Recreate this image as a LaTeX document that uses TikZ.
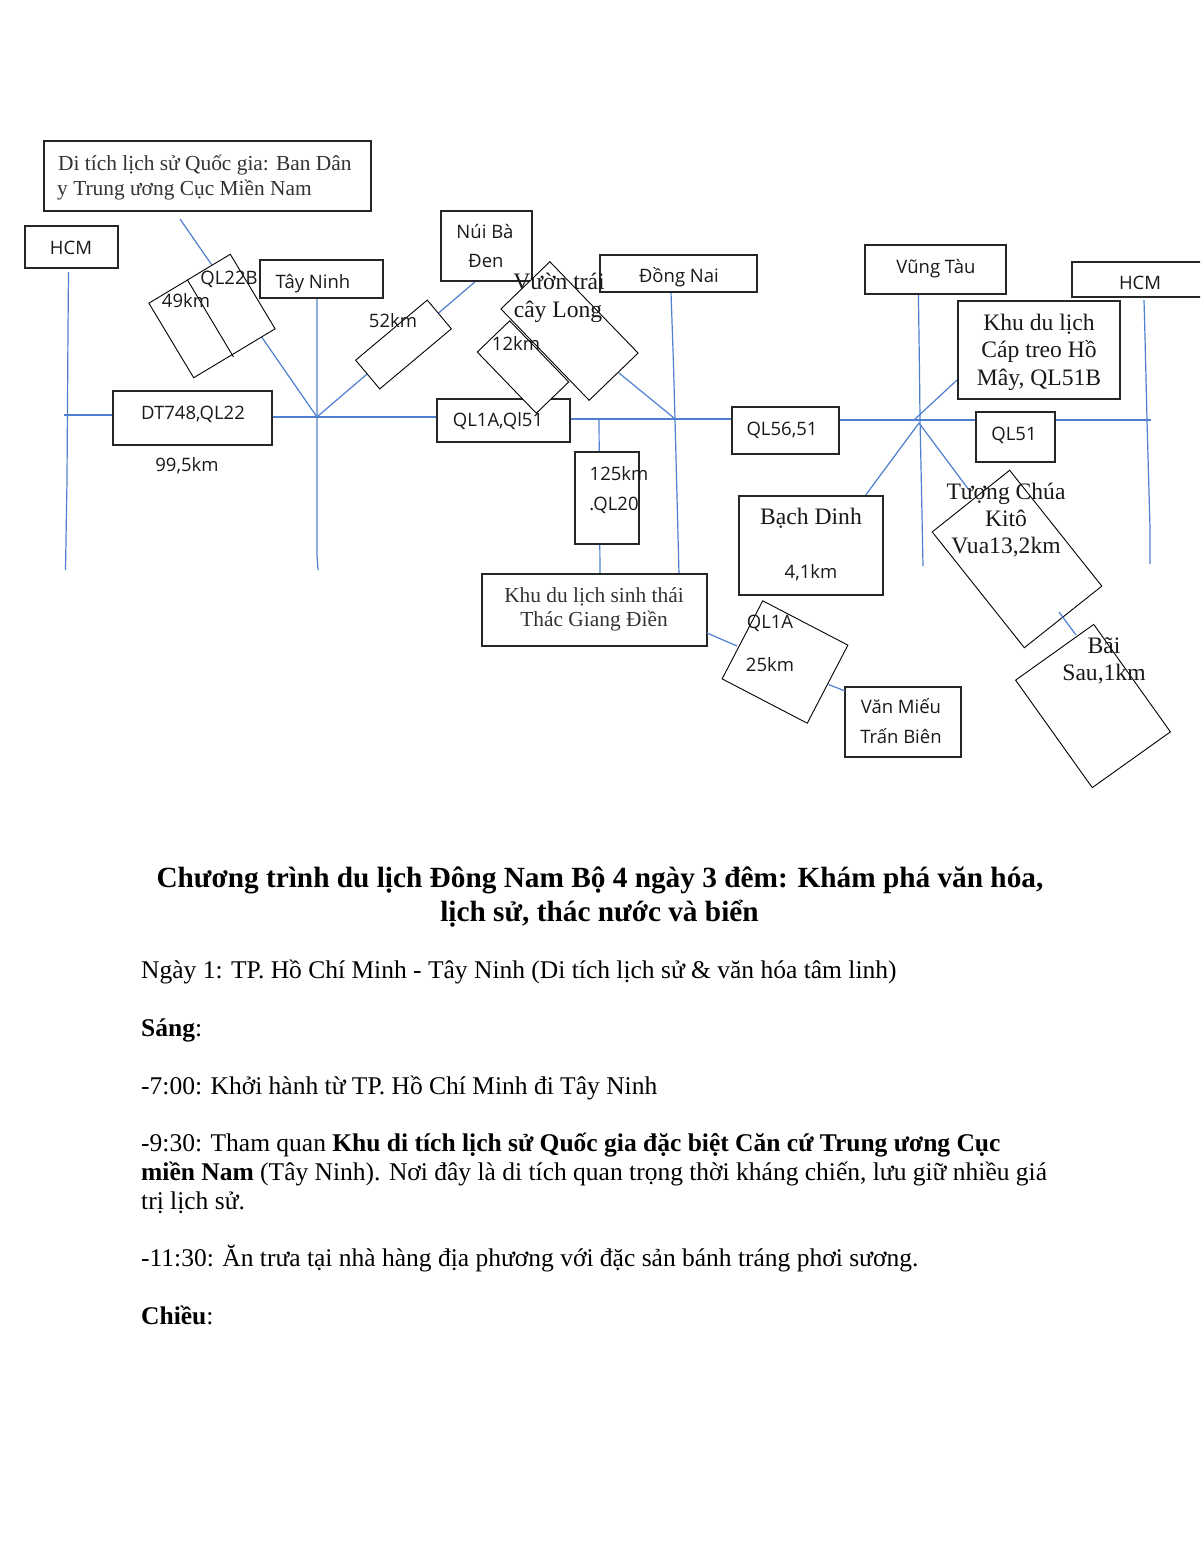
\documentclass[tikz,border=0pt]{standalone}
\usepackage{fontspec}
\setmainfont{Liberation Serif}
\newfontfamily\lblfont{Open Sans}
\usetikzlibrary{backgrounds,calc}
\definecolor{roadblue}{HTML}{4F7FCF}
\newcommand{\fs}[1]{\fontsize{#1}{#1}\selectfont}
\tikzset{
  x=1pt,y=-1pt,
  boxnode/.style={draw=black!85,line width=1.2pt,fill=white,inner sep=0pt,outer sep=0pt},
  tiltbox/.style={draw=black,line width=0.9pt,fill=white,inner sep=0pt,outer sep=0pt},
  road/.style={draw=roadblue,line width=1.2pt},
  divider/.style={draw=black,line width=0.9pt},
  sanslbl/.style={font=\lblfont\fs{18.5},inner sep=0pt,anchor=center,text=black!90,text height=13pt,text depth=0pt},
  seriflbl/.style={font=\fs{23.6},inner sep=0pt,anchor=center,text=black!90,text height=15.5pt,text depth=0pt},
  smallserif/.style={font=\fs{21.4},inner sep=0pt,text=black!80,text height=14pt,text depth=0pt},
  titletext/.style={font=\bfseries\fs{29.3},inner sep=0pt,anchor=base},
  bodytext/.style={font=\fs{25.5},inner sep=0pt,anchor=base west},
}
\newcommand{\rbox}[5]{%
  \pgfmathsetmacro{\cxx}{(#2+#4)/2}\pgfmathsetmacro{\cyy}{(#3+#5)/2}%
  \pgfmathsetmacro{\www}{#4-#2}\pgfmathsetmacro{\hhh}{#5-#3}%
  \node[boxnode,minimum width=\www pt,minimum height=\hhh pt] (#1) at (\cxx,\cyy) {};}
\begin{document}
\begin{tikzpicture}
\clip (0,0) rectangle (1200,1553);
% rectangles
\rbox{ditich}{44}{141}{371}{211}
\rbox{hcmL}{25}{226}{118}{268}
\rbox{tayninh}{260}{260}{383}{298}
\rbox{nuiba}{441}{211}{532}{281}
\rbox{dongnai}{600}{255}{757}{292}
\rbox{dt}{113}{391}{272}{445}
\rbox{qlA}{437}{399}{570}{442}
\rbox{oltw}{575}{452}{639}{544}
\rbox{sinhthai}{482}{574}{707}{646}
\rbox{qlfs}{732}{407}{839}{454}
\rbox{vungtau}{865}{245}{1006}{294}
\rbox{hcmR}{1072}{262}{1210}{297}
\rbox{captreo}{958}{301}{1120}{399}
\rbox{qlfo}{976}{412}{1055}{462}
\rbox{bachdinh}{739}{496}{883}{595}
\rbox{vanmieu}{845}{687}{961}{757}
% tilted boxes
\node[tiltbox,minimum width=95pt,minimum height=87pt,rotate=31] (tiltA) at (212,316) {};
\node[tiltbox,minimum width=93.5pt,minimum height=37.5pt,rotate=40] (tiltB) at (403.5,344.5) {};
\node[tiltbox,minimum width=127pt,minimum height=68pt,rotate=-46] (vuon) at (569.5,331) {};
\node[tiltbox,minimum width=85pt,minimum height=45pt,rotate=-46] (tiltC) at (523,367) {};
\node[tiltbox,minimum width=96pt,minimum height=88pt,rotate=-27.5] (tiltD) at (785,662) {};
\node[tiltbox,minimum width=99pt,minimum height=148pt,rotate=38.5] (tuong) at (1017,559) {};
\node[tiltbox,minimum width=96pt,minimum height=132pt,rotate=35.5] (baisau) at (1093,706) {};
\coordinate (divA) at (187.5,280);
\coordinate (divB) at (233.5,357);
\draw[divider] (divA) -- (divB);
% junctions and free ends
\coordinate (jA) at (317,417);
\coordinate (jB) at (675,419);
\coordinate (jC) at (920,420);
\coordinate (hcmLbot) at (65.5,570);
\coordinate (hcmLtop) at (68.5,272);
\coordinate (hcmLw) at (64,415);
\coordinate (tnbot) at (318,570);
\coordinate (dtop) at (180,219);
\coordinate (nuiEnd) at (476,281);
\coordinate (jAe) at (318,416);
\coordinate (vtbot) at (923,566);
\coordinate (caend) at (957,380);
\coordinate (cawest) at (914,420);
\coordinate (bdend) at (865,496);
\coordinate (jCs) at (919,423);
\coordinate (tuEnd) at (969,490);
\coordinate (hcmRtop) at (1144,300);
\coordinate (hcmRbot) at (1150,564);
\coordinate (hEnd) at (1151,420);
\coordinate (vuonEnd) at (619,373);
\coordinate (jBn) at (674,418);
\begin{scope}[on background layer]
  \fill[white] (0,0) rectangle (1200,1553);
  \draw[road] (hcmLtop) -- (68,330) -- (67,480) -- (hcmLbot);
  \draw[road] (hcmLw) -- (dt.west |- hcmLw);
  \draw[road] (dt.east |- jA) -- (qlA.west |- jA);
  \draw[road] (jA |- tayninh.south) -- (317,555) -- (tnbot);
  \draw[road] (dtop) -- (jA);
  \draw[road] (jAe) -- (nuiEnd);
  \draw[road] (qlA.east |- jB) -- (qlfs.west |- jB);
  \draw[road] (599,419) -- (600,574);
  \draw[road] (671,292) -- (673.5,365) -- (jB) -- (679,574);
  \draw[road] (jBn) -- (vuonEnd);
  \draw[road] (qlfs.east |- jC) -- (qlfo.west |- jC);
  \draw[road] (qlfo.east |- jC) -- (hEnd);
  \draw[road] (918.4,294) -- (919.6,380) -- (jC) -- (921,466) -- (vtbot);
  \draw[road] (caend) -- (cawest);
  \draw[road] (bdend) -- (jCs);
  \draw[road] (jCs) -- (tuEnd);
  \draw[road] (hcmRtop) -- (1145,337) -- (1147,420) -- (1150,528) -- (hcmRbot);
\end{scope}
% connectors on top
\coordinate (tbA) at (1059,612);
\coordinate (tbB) at (1076,635);
\draw[road] (tbA) -- (tbB);
\coordinate (stA) at (707,633);
\coordinate (stB) at (737,646);
\draw[road] (stA) -- (stB);
\coordinate (vmA) at (828.5,684.5);
\coordinate (vmB) at (845,691);
\draw[road] (vmA) -- (vmB);
% labels
\node[smallserif,anchor=base west] (t1) at (58,170) {Di tích lịch sử Quốc gia: Ban Dân};
\node[smallserif,anchor=base west] (t2) at (57,195) {y Trung ương Cục Miền Nam};
\node[sanslbl] (t3) at (71,248) {HCM};
\node[sanslbl] (t4) at (313,282) {Tây Ninh};
\node[sanslbl] (t5) at (485,232) {Núi Bà};
\node[sanslbl] (t6) at (486,261) {Đen};
\node[sanslbl] (t7) at (193,413) {DT748,QL22};
\node[sanslbl] (t8) at (187,465) {99,5km};
\node[sanslbl] (t9) at (229,278) {QL22B};
\node[sanslbl] (t10) at (186,301) {49km};
\node[sanslbl] (t11) at (393,321) {52km};
\node[sanslbl] (t12) at (516,344) {12km};
\node[seriflbl] (t13) at (559,282) {Vườn trái};
\node[seriflbl] (t14) at (558,310) {cây Long};
\node[sanslbl] (t15) at (498,420) {QL1A,Ql51};
\node[sanslbl] (t16) at (619,474) {125km};
\node[sanslbl] (t17) at (614,504) {.QL20};
\node[sanslbl] (t18) at (679,276) {Đồng Nai};
\node[sanslbl] (t19) at (782,429) {QL56,51};
\node[sanslbl] (t20) at (936,267) {Vũng Tàu};
\node[sanslbl] (t21) at (1140,283) {HCM};
\node[seriflbl] (t22) at (1039,323) {Khu du lịch};
\node[seriflbl] (t23) at (1039,350) {Cáp treo Hồ};
\node[seriflbl] (t24) at (1039,378) {Mây, QL51B};
\node[sanslbl] (t25) at (1014,434) {QL51};
\node[seriflbl] (t26) at (1006,492) {Tượng Chúa};
\node[seriflbl] (t27) at (1006,519) {Kitô};
\node[seriflbl] (t28) at (1006,546) {Vua13,2km};
\node[seriflbl] (t29) at (811,517) {Bạch Dinh};
\node[sanslbl] (t30) at (811,572) {4,1km};
\node[smallserif] (t31) at (594,595) {Khu du lịch sinh thái};
\node[smallserif] (t32) at (594,619) {Thác Giang Điền};
\node[sanslbl] (t33) at (770,622) {QL1A};
\node[sanslbl] (t34) at (770,665) {25km};
\node[sanslbl] (t35) at (901,707) {Văn Miếu};
\node[sanslbl] (t36) at (901,737) {Trấn Biên};
\node[seriflbl] (t37) at (1104,646) {Bãi};
\node[seriflbl] (t38) at (1104,673) {Sau,1km};
% document text
\node[titletext] (h1) at (600,887) {Chương trình du lịch Đông Nam Bộ 4 ngày 3 đêm: Khám phá văn hóa,};
\node[titletext] (h2) at (599.5,921) {lịch sử, thác nước và biển};
\node[bodytext] (b1) at (141,978) {Ngày 1: TP. Hồ Chí Minh - Tây Ninh (Di tích lịch sử \& văn hóa tâm linh)};
\node[bodytext] (b2) at (141,1036) {\textbf{Sáng}:};
\node[bodytext] (b3) at (141,1094) {-7:00: Khởi hành từ TP. Hồ Chí Minh đi Tây Ninh};
\node[bodytext] (b4) at (141,1151) {-9:30: Tham quan \textbf{Khu di tích lịch sử Quốc gia đặc biệt Căn cứ Trung ương Cục}};
\node[bodytext] (b5) at (141,1180) {\textbf{miền Nam} (Tây Ninh). Nơi đây là di tích quan trọng thời kháng chiến, lưu giữ nhiều giá};
\node[bodytext] (b6) at (141,1209) {trị lịch sử.};
\node[bodytext] (b7) at (141,1266) {-11:30: Ăn trưa tại nhà hàng địa phương với đặc sản bánh tráng phơi sương.};
\node[bodytext] (b8) at (141,1324) {\textbf{Chiều}:};
\end{tikzpicture}
\end{document}
